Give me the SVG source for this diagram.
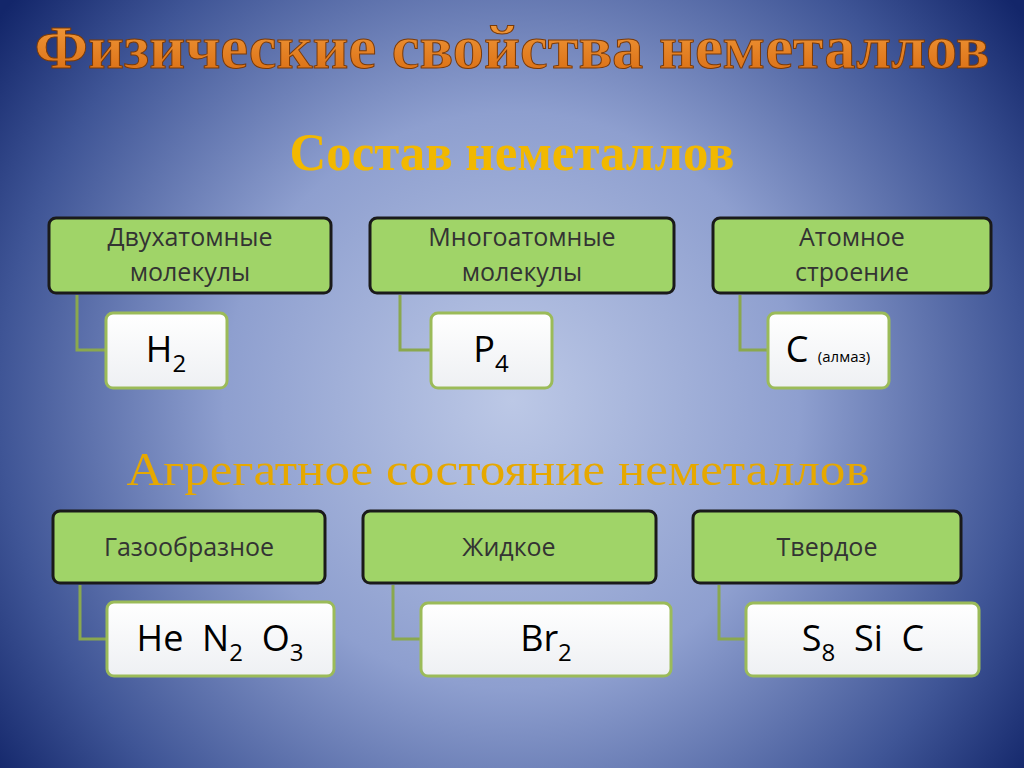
<svg xmlns="http://www.w3.org/2000/svg" width="1024" height="768" viewBox="0 0 1024 768">
<defs>
<radialGradient id="bg" cx="512" cy="400" r="640" gradientUnits="userSpaceOnUse">
<stop offset="0" stop-color="#bcc8e6"/><stop offset="0.45" stop-color="#8e9fcf"/><stop offset="0.8" stop-color="#3f5596"/><stop offset="1" stop-color="#13266a"/>
</radialGradient>
<linearGradient id="wg" x1="0" y1="0" x2="0" y2="1"><stop offset="0" stop-color="#ffffff"/><stop offset="1" stop-color="#eef0f3"/></linearGradient>
<linearGradient id="og" x1="0" y1="0" x2="0" y2="1"><stop offset="0" stop-color="#f4a040"/><stop offset="1" stop-color="#d86a10"/></linearGradient>
<style>
.g{fill:#a0d468;stroke:#1a1a1a;stroke-width:3}
.w{fill:url(#wg);stroke:#9bbb59;stroke-width:3}
.c{fill:none;stroke:#8aa84e;stroke-width:3}
.l{font-family:"Open Sans","Liberation Sans",sans-serif;font-size:25px;fill:#333;text-anchor:middle}
.f{font-family:"Open Sans","Liberation Sans",sans-serif;font-size:36px;fill:#000;text-anchor:middle}
</style>
</defs>
<rect width="1024" height="768" fill="url(#bg)"/>
<text x="512" y="68" text-anchor="middle" textLength="955" lengthAdjust="spacingAndGlyphs" font-family="Liberation Serif,serif" font-weight="bold" font-size="62" fill="url(#og)" stroke="#7a3a08" stroke-width="1">Физические свойства неметаллов</text>
<text x="512" y="170" text-anchor="middle" textLength="445" lengthAdjust="spacingAndGlyphs" font-family="Liberation Serif,serif" font-weight="bold" font-size="52" fill="#f2b800">Состав неметаллов</text>
<text x="498" y="485" text-anchor="middle" textLength="743" lengthAdjust="spacingAndGlyphs" font-family="Liberation Serif,serif" font-size="46" fill="#e6a800">Агрегатное состояние неметаллов</text>
<g id="connectors">
<path class="c" d="M77 295V350H106"/><path class="c" d="M400 295V350H431"/><path class="c" d="M740 295V350H768"/>
<path class="c" d="M80 585V639H107"/><path class="c" d="M393 585V639H421"/><path class="c" d="M719 585V639H746"/>
</g>
<g id="n1"><rect class="g" x="49" y="218" width="282" height="75" rx="7"/><text class="l" x="190" y="246">Двухатомные</text><text class="l" x="190" y="281">молекулы</text></g>
<g id="n2"><rect class="g" x="370" y="218" width="304" height="75" rx="7"/><text class="l" x="522" y="246">Многоатомные</text><text class="l" x="522" y="281">молекулы</text></g>
<g id="n3"><rect class="g" x="713" y="218" width="278" height="75" rx="7"/><text class="l" x="852" y="246">Атомное</text><text class="l" x="852" y="281">строение</text></g>
<g id="n4"><rect class="w" x="106" y="313" width="121" height="75" rx="7"/><text class="f" x="166" y="362">H<tspan font-size="24" dy="10">2</tspan></text></g>
<g id="n5"><rect class="w" x="431" y="313" width="121" height="75" rx="7"/><text class="f" x="491" y="362">P<tspan font-size="24" dy="10">4</tspan></text></g>
<g id="n6"><rect class="w" x="768" y="313" width="121" height="75" rx="7"/><text class="f" x="828" y="362">C <tspan font-size="15">(алмаз)</tspan></text></g>
<g id="n7"><rect class="g" x="53" y="511" width="272" height="72" rx="7"/><text class="l" x="189" y="556">Газообразное</text></g>
<g id="n8"><rect class="g" x="363" y="511" width="293" height="72" rx="7"/><text class="l" x="509" y="556">Жидкое</text></g>
<g id="n9"><rect class="g" x="693" y="511" width="268" height="72" rx="7"/><text class="l" x="827" y="556">Твердое</text></g>
<g id="n10"><rect class="w" x="107" y="602" width="227" height="74" rx="7"/><text class="f" x="220" y="651">He&#160;&#160;N<tspan font-size="24" dy="10">2</tspan><tspan dy="-10">&#160;&#160;O</tspan><tspan font-size="24" dy="10">3</tspan></text></g>
<g id="n11"><rect class="w" x="421" y="603" width="250" height="73" rx="7"/><text class="f" x="546" y="651">Br<tspan font-size="24" dy="10">2</tspan></text></g>
<g id="n12"><rect class="w" x="746" y="603" width="233" height="73" rx="7"/><text class="f" x="863" y="651">S<tspan font-size="24" dy="10">8</tspan><tspan dy="-10">&#160;&#160;Si&#160;&#160;C</tspan></text></g>
</svg>
